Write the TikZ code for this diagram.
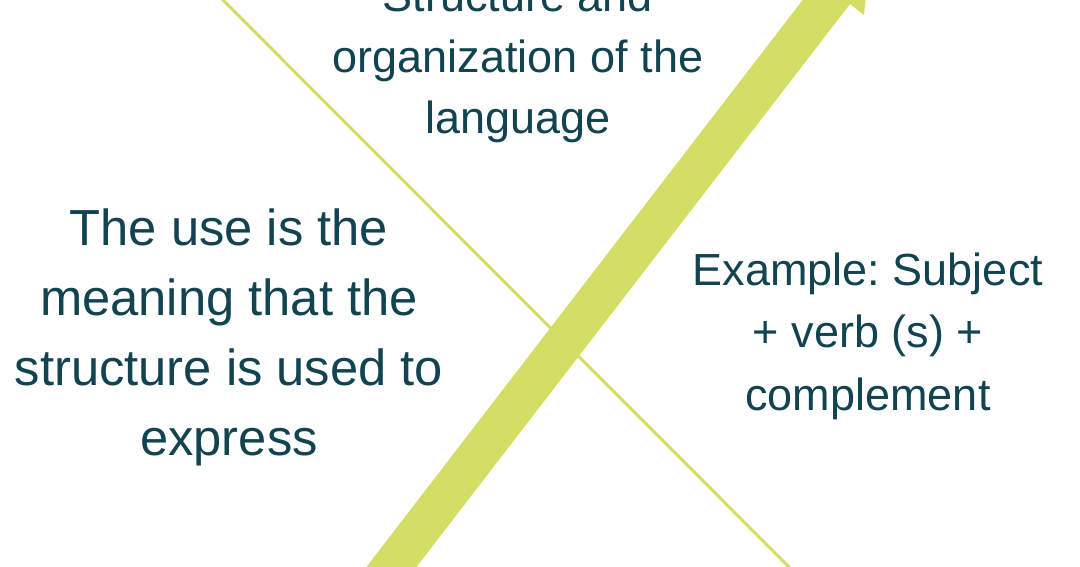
\documentclass[tikz,border=0pt]{standalone}
\usepackage{fontspec}
\setmainfont{Liberation Sans}
\frenchspacing
\definecolor{lime}{RGB}{210,223,100}
\definecolor{ink}{RGB}{17,68,80}
\begin{document}
\begin{tikzpicture}[x=1pt,y=-1pt,
  txt/.style={text=ink,align=center,inner sep=0pt,anchor=base},
  bigtxt/.style={txt,font=\fontsize{50.7}{70}\selectfont},
  smalltxt/.style={txt,font=\fontsize{45}{61}\selectfont}]
\useasboundingbox (0,0) rectangle (1080,566);
\fill[white] (0,0) rectangle (1080,566);
\begin{scope}
\clip (0,0) rectangle (1080,566);
\coordinate (l1) at (213,-10);
\coordinate (l2) at (798,576);
\draw[lime,line width=3pt] (l1) -- (l2);
\fill[lime] (341,600) -- (818,-20) -- (804,-31) -- (871,-56) -- (864,15) -- (850,4) -- (391,600) -- cycle;
\end{scope}
\node[smalltxt] (top) at (518,133) {Structure and\\organization of the\\language};
\node[bigtxt] (left) at (229,455) {The use is the\\meaning that the\\structure is used to\\express};
\node[smalltxt,font=\fontsize{45}{62.5}\selectfont] (right) at (868,410) {Example: Subject\\+ verb (s) +\\complement};
\end{tikzpicture}
\end{document}
